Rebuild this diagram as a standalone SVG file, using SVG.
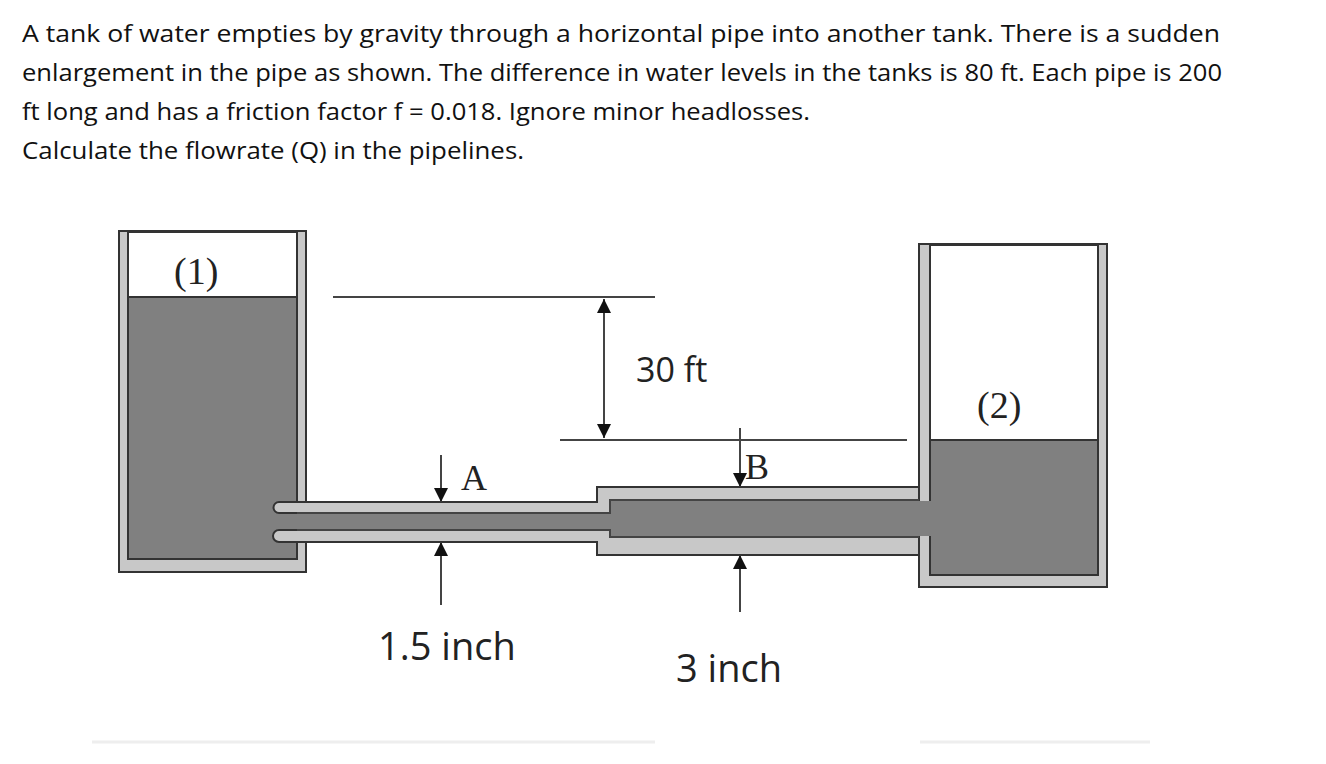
<svg xmlns="http://www.w3.org/2000/svg" width="1326" height="764" viewBox="0 0 1326 764">
<defs>
<style>
.q{font-family:"Open Sans","Liberation Sans",sans-serif;font-size:24px;fill:#111}
.s{font-family:"Open Sans","Liberation Sans",sans-serif;fill:#222}
.r{font-family:"Liberation Serif",serif;fill:#222}
.wall{fill:#c8c8c8;stroke:#333;stroke-width:2}
.wat{fill:#808080;stroke:#333;stroke-width:2}
.ln{stroke:#444;stroke-width:2;fill:none}
</style>
<marker id="ah2" viewBox="0 0 10 10" refX="10" refY="5" markerWidth="15" markerHeight="14" orient="auto-start-reverse" markerUnits="userSpaceOnUse"><path d="M0,0L10,5L0,10z" fill="#111"/></marker>
</defs>
<rect width="1326" height="764" fill="#fff"/>
<g id="question">
<text class="q" x="22" y="42" textLength="1198" lengthAdjust="spacingAndGlyphs">A tank of water empties by gravity through a horizontal pipe into another tank. There is a sudden</text>
<text class="q" x="22" y="81" textLength="1200" lengthAdjust="spacingAndGlyphs">enlargement in the pipe as shown. The difference in water levels in the tanks is 80 ft. Each pipe is 200</text>
<text class="q" x="22" y="120" textLength="788" lengthAdjust="spacingAndGlyphs">ft long and has a friction factor f = 0.018. Ignore minor headlosses.</text>
<text class="q" x="22" y="159" textLength="502" lengthAdjust="spacingAndGlyphs">Calculate the flowrate (Q) in the pipelines.</text>
</g>
<g id="tank1">
<rect class="wall" x="119" y="231" width="187" height="341"/>
<rect x="128" y="232" width="169" height="327" fill="#fff" stroke="#333" stroke-width="2"/>
<rect class="wat" x="128" y="297" width="169" height="262"/>
<text class="r" x="174" y="284" font-size="38">(1)</text>
</g>
<g id="tank2">
<rect class="wall" x="919" y="244" width="188" height="343"/>
<rect x="930" y="245" width="168" height="330" fill="#fff" stroke="#333" stroke-width="2"/>
<rect class="wat" x="930" y="440" width="168" height="135"/>
<text class="r" x="977" y="418" font-size="38">(2)</text>
</g>
<g id="pipe">
<path class="wall" d="M279,502H597V487H919V555H597V542H279A4,4 0 0 1 279,530H610V513H279A4,4 0 0 1 279,502Z"/>
<path d="M276,514H610V501H931V536H610V529H276Z" fill="#808080"/>
<path class="ln" d="M297,513H610V500H919M297,530H610V537H919" stroke="#333"/>
</g>
<g id="labels">
<text class="s" x="636" y="382" font-size="34">30 ft</text>
<text class="r" x="461" y="490" font-size="36">A</text>
<text class="r" x="745" y="479" font-size="36">B</text>
<text class="s" x="378" y="660" font-size="38">1.5 inch</text>
<text class="s" x="676" y="682" font-size="38">3 inch</text>
</g>
<g id="connectors">
<line class="ln" x1="333" y1="297" x2="655" y2="297"/>
<line class="ln" x1="560" y1="440" x2="907" y2="440"/>
<line class="ln" x1="604" y1="299" x2="604" y2="438" marker-start="url(#ah2)" marker-end="url(#ah2)"/>
<line class="ln" x1="441" y1="455" x2="441" y2="502" marker-end="url(#ah2)"/>
<line class="ln" x1="441" y1="605" x2="441" y2="542" marker-end="url(#ah2)"/>
<line class="ln" x1="740" y1="428" x2="740" y2="487" marker-end="url(#ah2)"/>
<line class="ln" x1="740" y1="612" x2="740" y2="555" marker-end="url(#ah2)"/>
<line x1="92" y1="742" x2="655" y2="742" stroke="#eee" stroke-width="3"/>
<line x1="920" y1="742" x2="1150" y2="742" stroke="#eee" stroke-width="3"/>
</g>
</svg>
